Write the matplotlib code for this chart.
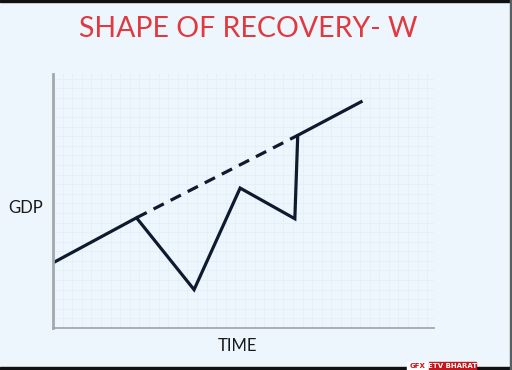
import matplotlib.pyplot as plt
import matplotlib.patches as patches
import numpy as np

# W-shaped recovery path (time vs GDP, arbitrary grid units)
time = [0, 8.7, 14.7, 19.5, 25.2, 25.5, 32.1]
gdp = [6.8, 11.5, 4.0, 14.6, 11.4, 20.1, 23.6]

# pre-crisis trend continued (dashed)
trend_time = [8.7, 25.5]
trend_gdp = [11.5, 20.1]

bg = '#eef6fd'
fig = plt.figure(figsize=(5.12, 3.70), dpi=100, facecolor=bg)

ax = fig.add_axes([53 / 512, 42 / 370, 381 / 512, 254 / 370])
ax.set_facecolor(bg)
ax.plot(time, gdp, color='#0e1a2e', lw=2.3, solid_joinstyle='miter')
ax.plot(trend_time, trend_gdp, color='#0e1a2e', lw=2.3, dashes=(3.6, 2.4))

ax.set_xlim(0, 39.7)
ax.set_ylim(0, 26.5)
ax.set_xticks(np.arange(0, 40, 1))
ax.set_yticks(np.arange(0, 27, 1))
ax.grid(True, color='#e3eef9', lw=0.6)
ax.tick_params(length=0, labelbottom=False, labelleft=False)
for s in ['top', 'right']:
    ax.spines[s].set_visible(False)
ax.spines['left'].set_color('#a3a8ab')
ax.spines['left'].set_linewidth(2)
ax.spines['bottom'].set_color('#a3a8ab')
ax.spines['bottom'].set_linewidth(1.3)

fig.text(248 / 512, 1 - 29 / 370, 'SHAPE OF RECOVERY- W', color='#e0393f',
         fontsize=20.5, family='Lato', ha='center', va='center')
fig.text(26 / 512, 1 - 208 / 370, 'GDP', color='#1a1a1a', fontsize=12,
         family='Lato', ha='center', va='center')
fig.text(238 / 512, 1 - 346 / 370, 'TIME', color='#1a1a1a', fontsize=12,
         family='Lato', ha='center', va='center')

# screenshot frame: dark bands and watermark
fig.patches.append(patches.Rectangle((0, 1 - 2 / 370), 1, 2 / 370, transform=fig.transFigure,
                                     color='#111111', zorder=5))
fig.patches.append(patches.Rectangle((0, 0), 1, 3 / 370, transform=fig.transFigure,
                                     color='#111111', zorder=5))
fig.patches.append(patches.Rectangle((510 / 512, 0), 2 / 512, 1, transform=fig.transFigure,
                                     color='#5a5f63', zorder=5))
fig.patches.append(patches.Rectangle((407 / 512, 0), 22 / 512, 8 / 370, transform=fig.transFigure,
                                     color='white', zorder=6))
fig.patches.append(patches.Rectangle((429 / 512, 0), 47 / 512, 8 / 370, transform=fig.transFigure,
                                     color='#c4161c', zorder=6))
fig.text(418 / 512, 4 / 370, 'GFX', color='#c4161c', fontsize=5, weight='bold',
         ha='center', va='center', zorder=7)
fig.text(452.5 / 512, 4 / 370, 'ETV BHARAT', color='white', fontsize=5, weight='bold',
         ha='center', va='center', zorder=7)

fig.savefig('out.png', dpi=100, facecolor=bg)
